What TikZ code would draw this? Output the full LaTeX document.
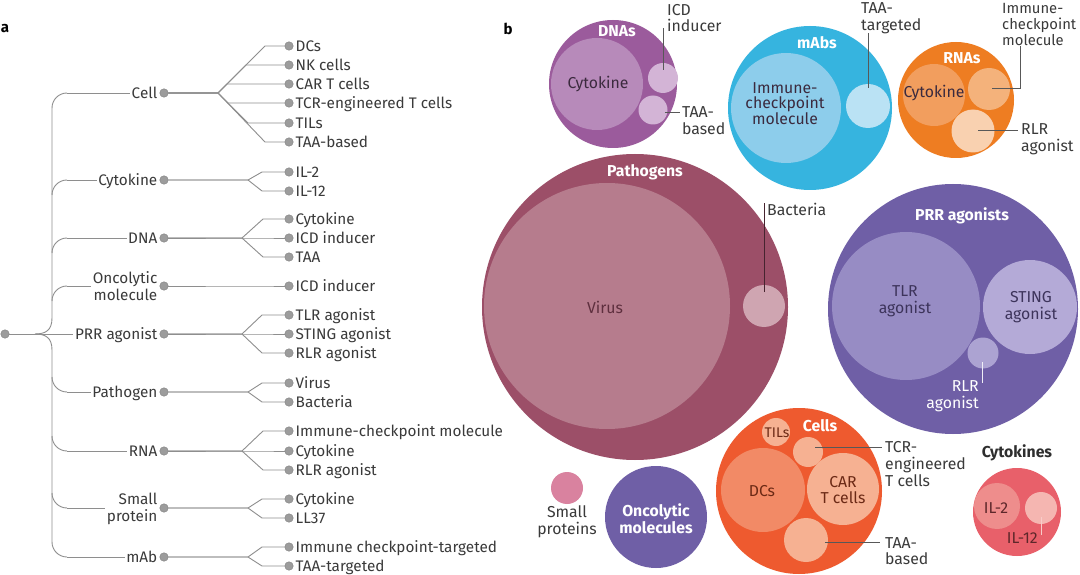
\documentclass[tikz,border=0pt]{standalone}
\usepackage{fontspec}
\setmainfont{Fira Sans}
\newcommand\pbfont{\fontsize{15.8}{16.7}\selectfont}
\newcommand\pafont{\fontsize{15.3}{16.7}\selectfont}
\definecolor{txt}{HTML}{3A3A3A}
\definecolor{tgray}{HTML}{8E8E8E}
\definecolor{dotf}{HTML}{9C9C9C}
\definecolor{dotd}{HTML}{7E7E7E}
\definecolor{dnaO}{HTML}{9B5B9C}
\definecolor{dnaI}{HTML}{B78ABA}
\definecolor{dnaS}{HTML}{D3B4D6}
\definecolor{mabO}{HTML}{36B4DF}
\definecolor{mabI}{HTML}{8DCDEB}
\definecolor{mabS}{HTML}{BAE2F4}
\definecolor{rnaO}{HTML}{EE7D22}
\definecolor{rnaC}{HTML}{F29E5E}
\definecolor{rnaI}{HTML}{F4B27B}
\definecolor{rnaR}{HTML}{F9D1B0}
\definecolor{patO}{HTML}{9C4F68}
\definecolor{patV}{HTML}{B67C8D}
\definecolor{patB}{HTML}{CFA5B1}
\definecolor{prrO}{HTML}{6F5FA6}
\definecolor{prrT}{HTML}{978CC4}
\definecolor{prrS}{HTML}{B4AAD7}
\definecolor{prrR}{HTML}{ACA3D2}
\definecolor{celO}{HTML}{EE5A2F}
\definecolor{celD}{HTML}{F28A66}
\definecolor{celL}{HTML}{F6B192}
\definecolor{cytO}{HTML}{E8606A}
\definecolor{cyt2}{HTML}{EE8D8C}
\definecolor{cyt12}{HTML}{F5B6B1}
\definecolor{smp}{HTML}{D9829F}
\definecolor{indark}{HTML}{3B2A3E}
\begin{document}
\begin{tikzpicture}[x=1pt,y=-1pt,
  font=\pafont,
  tline/.style={draw=tgray, line width=0.9pt},
  tdot/.style={circle, fill=dotf, draw=dotd, line width=0.4pt, minimum size=8.5pt, inner sep=0pt},
  llab/.style={anchor=east, inner sep=1.5pt, text=txt, text height=10.5pt, text depth=0pt, font=\pafont},
  rlab/.style={anchor=west, inner sep=1.5pt, text=txt, text height=10.5pt, text depth=0pt, font=\pafont},
  blob/.style={circle, inner sep=0pt, draw=none},
  ttl/.style={font=\pbfont\bfseries, text=white, inner sep=0pt},
  inl/.style={text=indark, align=center, inner sep=0pt, font=\pbfont},
  outl/.style={text=txt, align=left, inner sep=0pt, font=\pbfont},
  lead/.style={draw=txt!85, line width=0.7pt},
  wlead/.style={draw=white!85!prrT, line width=0.7pt},
]
\useasboundingbox (0,0) rectangle (1080,575);
\fill[white] (0,0) rectangle (1080,575);

% panel letters
\node[font=\fontsize{15}{16}\selectfont\bfseries, text=black, inner sep=0pt] (pa) at (5,29) {a};
\node[font=\fontsize{15}{16}\selectfont\bfseries, text=black, inner sep=0pt] (pb) at (508,29) {b};

% ================= panel a =================
\node[tdot] (root) at (5,334) {};
\coordinate (rj) at (35,334);
\draw[tline] (root) -- (rj);
\draw[tline] (rj) .. controls (46,334) and (52,330) .. (52,318) -- (52,108);
\draw[tline] (rj) .. controls (46,334) and (52,338) .. (52,350) -- (52,542);

% level-1 dots and labels
\foreach \n/\y/\t in {cell/93/Cell, cyto/180/Cytokine, dna/238/DNA, prr/334/PRR agonist, path/392/Pathogen, rna/451/RNA, mab/557/mAb}{
  \node[tdot] (d\n) at (164,\y) {};
  \node[llab] (l\n) at (159,\y) {\t};
}
\node[tdot] (donc) at (164,286) {};
\node[anchor=east, inner sep=1.5pt, text=txt, align=right, font=\fontsize{15.3}{16.5}\selectfont] (lonc) at (159,286) {Oncolytic\\molecule};
\node[tdot] (dsmp) at (164,508) {};
\node[anchor=east, inner sep=1.5pt, text=txt, align=right, font=\fontsize{15.3}{17.5}\selectfont] (lsmp) at (159,509) {Small\\protein};

% curves from the spine
\foreach \n/\y in {cell/93, cyto/180, dna/238, onc/286}{
  \draw[tline] (52,\y+15) to[out=90,in=180] (67,\y) coordinate (k\n);
}
\foreach \n/\y in {path/392, rna/451, smp/508, mab/557}{
  \draw[tline] (52,\y-15) to[out=-90,in=180] (67,\y) coordinate (k\n);
}
\foreach \n in {cell,cyto,dna,path,rna,mab}{
  \draw[tline] (k\n) -- (l\n.west);
}
\draw[tline] (konc) -- (lonc.west |- konc);
\draw[tline] (ksmp) -- (lsmp.west |- ksmp);
\draw[tline] (rj) -- (lprr.west);

% leaves: group, level y, branch x, leaf y, elbow x, text
\foreach \g/\i/\y/\bx/\ly/\ex/\t in {
  cell/1/93/218/46/265/DCs,
  cell/2/93/218/65/246/NK cells,
  cell/3/93/218/84/227/CAR T cells,
  cell/4/93/218/103/228/TCR-engineered T cells,
  cell/5/93/218/123/248/TILs,
  cell/6/93/218/142/265/TAA-based,
  cyto/1/180/248/172/262/IL-2,
  cyto/2/180/248/191/262/IL-12,
  dna/1/238/242/219/263/Cytokine,
  dna/2/238/242/238/263/ICD inducer,
  dna/3/238/242/257/263/TAA,
  onc/1/286/242/286/263/ICD inducer,
  prr/1/334/242/315/262/TLR agonist,
  prr/2/334/242/334/262/STING agonist,
  prr/3/334/242/353/262/RLR agonist,
  path/1/392/248/383/262/Virus,
  path/2/392/248/402/262/Bacteria,
  rna/1/451/242/431/263/Immune-checkpoint molecule,
  rna/2/451/242/451/263/Cytokine,
  rna/3/451/242/470/263/RLR agonist,
  smp/1/508/248/499/262/Cytokine,
  smp/2/508/248/518/262/LL37,
  mab/1/557/248/547/262/Immune checkpoint-targeted,
  mab/2/557/248/566/262/TAA-targeted}{
  \node[tdot] (e\g\i) at (289,\ly) {};
  \node[rlab] (t\g\i) at (294,\ly) {\t};
  \draw[tline] (d\g) -- (\bx,\y) -- (\ex,\ly) -- (e\g\i);
}

% ================= panel b =================
% DNAs
\node[blob, fill=dnaO, minimum size=128pt] (dna) at (613,84) {};
\node[blob, fill=dnaI, minimum size=92pt] (dnacyt) at (597,84) {};
\node[blob, fill=dnaS, minimum size=30pt] (dnaicd) at (663,78) {};
\node[blob, fill=dnaS, minimum size=29pt] (dnataa) at (653,110) {};
\node[ttl] (dnat) at (617,31) {DNAs};
\node[inl] (dnacytl) at (598,84) {Cytokine};
\coordinate (dnaicdA) at (663,70);
\coordinate (dnaicdB) at (663,28);
\draw[lead] (dnaicdA) -- (dnaicdB);
\node[outl, anchor=west] (dnaicdl) at (667,18) {ICD\\inducer};
\coordinate (dnataaA) at (665,112);
\coordinate (dnataaB) at (680,112);
\draw[lead] (dnataaA) -- (dnataaB);
\node[outl, anchor=west] (dnataal) at (682,121) {TAA-\\based};

% mAbs
\node[blob, fill=mabO, minimum size=164pt] (mab) at (810,108) {};
\node[blob, fill=mabI, minimum size=110pt] (mabic) at (786,108) {};
\node[blob, fill=mabS, minimum size=44pt] (mabtaa) at (868,106) {};
\node[ttl] (mabt) at (817,43) {mAbs};
\node[inl, font=\fontsize{15.8}{15}\selectfont] (mabicl) at (785,104) {Immune-\\checkpoint\\molecule};
\coordinate (mabtaaA) at (868,88);
\coordinate (mabtaaB) at (868,33);
\draw[lead] (mabtaaA) -- (mabtaaB);
\node[outl, anchor=west] (mabtaal) at (861,18) {TAA-\\targeted};

% RNAs
\node[blob, fill=rnaO, minimum size=116pt] (rna) at (956,100) {};
\node[blob, fill=rnaC, minimum size=62pt] (rnacyt) at (934,95) {};
\node[blob, fill=rnaI, minimum size=42pt] (rnaic) at (989,89) {};
\node[blob, fill=rnaR, minimum size=43pt] (rnarlr) at (973,131) {};
\node[ttl] (rnat) at (962,58) {RNAs};
\node[inl] (rnacytl) at (934,93) {Cytokine};
\coordinate (rnaicA) at (992,88);
\coordinate (rnaicB) at (1020,46);
\draw[lead] (rnaicA) -| (rnaicB);
\node[outl, anchor=west, font=\fontsize{14.8}{16}\selectfont] (rnaicl) at (1002,24) {Immune-\\checkpoint\\molecule};
\coordinate (rnarlrA) at (978,130);
\coordinate (rnarlrB) at (1018,130);
\draw[lead] (rnarlrA) -- (rnarlrB);
\node[outl, anchor=west] (rnarlrl) at (1021,139) {RLR\\agonist};

% Pathogens
\node[blob, fill=patO, minimum size=306pt] (pat) at (635,307) {};
\node[blob, fill=patV, minimum size=246pt] (patv) at (607,306) {};
\node[blob, fill=patB, minimum size=42pt] (patb) at (764,306) {};
\node[ttl] (patt) at (645,172) {Pathogens};
\node[inl, text=patO!60!black] (patvl) at (605,307) {Virus};
\coordinate (patbA) at (764,292);
\coordinate (patbB) at (764,203);
\draw[draw=patO!45!black, line width=0.7pt] (patbA) -- (patbB);
\node[outl, anchor=west, text height=10.8pt, text depth=0pt] (patbl) at (767,210) {Bacteria};

% PRR agonists
\node[blob, fill=prrO, minimum size=250pt] (prr) at (953,309) {};
\node[blob, fill=prrT, minimum size=148pt] (prrt) at (906,306) {};
\node[blob, fill=prrS, minimum size=94pt] (prrs) at (1030,307) {};
\node[blob, fill=prrR, minimum size=31pt] (prrr) at (983,353) {};
\node[ttl] (prrtl) at (962,216) {PRR agonists};
\node[inl, text=prrO!55!black] (prrtll) at (905,301) {TLR\\agonist};
\node[inl, text=prrO!55!black] (prrsl) at (1031,307) {STING\\agonist};
\coordinate (prrrA) at (982,362);
\coordinate (prrrB) at (982,383);
\draw[wlead] (prrrA) -- (prrrB);
\node[inl, text=white, align=right, anchor=east] (prrrl) at (979,396) {RLR\\agonist};

% Small proteins
\node[blob, fill=smp, minimum size=32pt] (smp) at (567,488) {};
\node[outl, align=center] (smpl) at (567,522) {Small\\proteins};

% Oncolytic molecules
\node[blob, fill=prrO, minimum size=102pt] (onc) at (656,517) {};
\node[ttl, align=center] (oncl) at (656,519) {Oncolytic\\molecules};

% Cells
\node[blob, fill=celO, minimum size=166pt] (cel) at (799,491) {};
\node[blob, fill=celL, minimum size=28pt] (celtil) at (776,432) {};
\node[blob, fill=celL, minimum size=30pt] (celtcr) at (808,452) {};
\node[blob, fill=celD, minimum size=84pt] (celdc) at (763,490) {};
\node[blob, fill=celL, minimum size=72pt] (celcar) at (843,489) {};
\node[blob, fill=celL, minimum size=44pt] (celtaa) at (806,540) {};
\node[ttl] (celt) at (820,426) {Cells};
\node[inl, text=celO!45!black, font=\fontsize{14}{15}\selectfont] (celtill) at (777,433) {TILs};
\node[inl, text=celO!45!black] (celdcl) at (762,491) {DCs};
\node[inl, text=celO!45!black] (celcarl) at (843,490) {CAR\\T cells};
\coordinate (celtcrA) at (815,447);
\coordinate (celtcrB) at (882,447);
\draw[lead] (celtcrA) -- (celtcrB);
\node[outl, anchor=west] (celtcrl) at (885,464) {TCR-\\engineered\\T cells};
\coordinate (celtaaA) at (825,542);
\coordinate (celtaaB) at (880,542);
\draw[lead] (celtaaA) -- (celtaaB);
\node[outl, anchor=west] (celtaal) at (885,551) {TAA-\\based};

% Cytokines
\node[blob, fill=cytO, minimum size=88pt] (cyt) at (1017,512) {};
\node[blob, fill=cyt2, minimum size=46pt] (cyt2n) at (997,506) {};
\node[blob, fill=cyt12, minimum size=32pt] (cyt12n) at (1041,508) {};
\node[font=\pbfont\bfseries, text=txt!80!black, inner sep=0pt] (cytt) at (1017,453) {Cytokines};
\node[inl, text=cytO!40!black] (cyt2l) at (996,508) {IL-2};
\coordinate (cyt12A) at (1041,517);
\coordinate (cyt12B) at (1041,535);
\draw[draw=cyt12!70!white, line width=0.7pt] (cyt12A) -- (cyt12B);
\node[inl, text=cytO!40!black, anchor=east] (cyt12l) at (1038,538) {IL-12};
\end{tikzpicture}
\end{document}
